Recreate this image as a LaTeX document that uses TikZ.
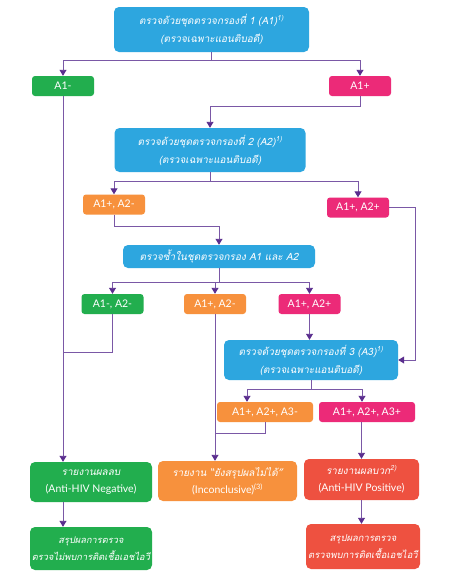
\documentclass[tikz,border=0pt]{standalone}
\usepackage{fontspec}
\setmainfont{Lato}
\newfontfamily\thaift[Script=Thai,FakeSlant=0.2]{Loma}
\usetikzlibrary{arrows.meta,calc}
\definecolor{cblue}{HTML}{2DA6DF}
\definecolor{cgreen}{HTML}{22AE4E}
\definecolor{cpink}{HTML}{EC2A78}
\definecolor{corange}{HTML}{F7913D}
\definecolor{cred}{HTML}{EE5140}
\definecolor{cline}{HTML}{7A58A6}
\definecolor{carrow}{HTML}{5A2D8E}
\tikzset{
  box/.style={rounded corners=5pt, text=white, align=center, inner sep=0pt, font=\fontsize{10}{18}\selectfont},
  rbox/.style={box, font=\fontsize{10.5}{17}\selectfont},
  small/.style={box, rounded corners=3pt, minimum width=62pt, minimum height=20pt, font=\fontsize{10.5}{12}\selectfont},
  ln/.style={draw=cline, line width=0.9pt},
  arr/.style={ln, -{Triangle[length=6pt,width=7pt,color=carrow]}},
}
\begin{document}
\begin{tikzpicture}[x=1pt,y=-1pt]
\useasboundingbox[fill=white] (0,0) rectangle (454,576);
% nodes
\node[box, fill=cblue, minimum width=195pt, minimum height=45pt] (b1) at (211.5,29.5)
  {\thaift ตรวจด้วยชุดตรวจกรองที่ 1 (A1)\textsuperscript{1)}\\ \thaift (ตรวจเฉพาะแอนติบอดี)};
\node[small, fill=cgreen] (a1n) at (63,86) {A1-};
\node[small, fill=cpink] (a1p) at (360,86) {A1+};
\node[box, fill=cblue, minimum width=191pt, minimum height=44pt] (b2) at (210,150)
  {\thaift ตรวจด้วยชุดตรวจกรองที่ 2 (A2)\textsuperscript{1)}\\ \thaift (ตรวจเฉพาะแอนติบอดี)};
\node[small, fill=corange] (a12m) at (114,204.5) {A1+, A2-};
\node[small, fill=cpink] (a12p) at (358,207.5) {A1+, A2+};
\node[box, fill=cblue, minimum width=192pt, minimum height=23pt] (b3r) at (219,256.5)
  {\thaift ตรวจซ้ำในชุดตรวจกรอง A1 และ A2};
\node[small, fill=cgreen] (c1) at (112.5,304) {A1-, A2-};
\node[small, fill=corange] (c2) at (215,304) {A1+, A2-};
\node[small, fill=cpink] (c3) at (309.5,304) {A1+, A2+};
\node[box, fill=cblue, minimum width=174pt, minimum height=40pt] (b3) at (311,360)
  {\thaift ตรวจด้วยชุดตรวจกรองที่ 3 (A3)\textsuperscript{1)}\\ \thaift (ตรวจเฉพาะแอนติบอดี)};
\node[small, fill=corange, minimum width=96pt] (d1) at (265,412) {A1+, A2+, A3-};
\node[small, fill=cpink, minimum width=96pt] (d2) at (367,412) {A1+, A2+, A3+};
\node[rbox, fill=cgreen, minimum width=122pt, minimum height=40pt] (r1) at (91,482)
  {{\fontsize{10}{17}\selectfont\thaift รายงานผลลบ}\\ (Anti-HIV Negative)};
\node[rbox, fill=corange, minimum width=139pt, minimum height=40pt] (r2) at (227.5,481)
  {{\fontsize{10}{17}\selectfont\thaift รายงาน “ยังสรุปผลไม่ได้”}\\ (Inconclusive)\textsuperscript{(3)}};
\node[rbox, fill=cred, minimum width=115pt, minimum height=41pt] (r3) at (361.5,479.5)
  {{\fontsize{10}{17}\selectfont\thaift รายงานผลบวก\textsuperscript{2)}}\\ (Anti-HIV Positive)};
\node[box, fill=cgreen, minimum width=122pt, minimum height=43pt, font=\fontsize{9.3}{17}\selectfont] (s1) at (91,548.5)
  {\thaift สรุปผลการตรวจ\\ \thaift ตรวจไม่พบการติดเชื้อเอชไอวี};
\node[box, fill=cred, minimum width=114pt, minimum height=45pt, font=\fontsize{9.5}{17}\selectfont] (s2) at (363,546.5)
  {\thaift สรุปผลการตรวจ\\ \thaift ตรวจพบการติดเชื้อเอชไอวี};
% connectors
\draw[ln] (b1.south) -- ++(0,8) coordinate (j1);
\draw[arr] (j1) -| (a1n.north);
\draw[arr] (j1) -| (a1p.north);
\draw[arr] (a1p.south) -- ++(0,10) -| (b2.north);
\draw[ln] (b2.south) -- ++(0,9) coordinate (j2);
\draw[arr] (j2) -| (a12m.north);
\draw[arr] (j2) -| (a12p.north);
\draw[arr] (a12m.south) -- ++(0,12) -| (b3r.north);
\draw[arr] (a12p.east) -- ++(26,0) |- (b3.east);
\draw[ln] (b3r.south) -- ++(0,14) coordinate (j3);
\draw[arr] (j3) -| (c1.north);
\draw[arr] (j3) -| (c2.north);
\draw[arr] (j3) -| (c3.north);
\draw[arr] (c3.south) -- (c3.south |- b3.north);
\draw[ln] (b3.south) -- ++(0,9) coordinate (j4);
\draw[arr] (j4) -| ([xshift=-18pt]d1.north);
\draw[arr] (j4) -| ([xshift=-5pt]d2.north);
\draw[ln] (c1.south) -- ++(0,38) coordinate (k1) -- (k1 -| a1n.south);
\draw[arr] (a1n.south) -- (a1n.south |- r1.north);
\draw[ln] (d1.south) -- ++(0,11) coordinate (k2) -- (k2 -| c2.south);
\draw[arr] (c2.south) -- (c2.south |- r2.north);
\draw[arr] (r3.north |- d2.south) -- (r3.north);
\draw[arr] (r1.south -| a1n.south) -- (s1.north -| a1n.south);
\draw[arr] (r3.south) -- (r3.south |- s2.north);
\end{tikzpicture}
\end{document}
